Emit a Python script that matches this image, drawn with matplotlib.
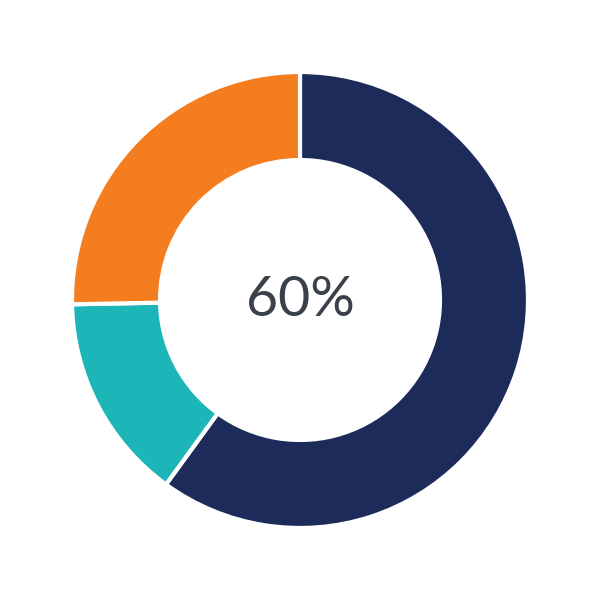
import matplotlib.pyplot as plt

# Data from the chart
labels = ['Navy', 'Teal', 'Orange']
shares = [60, 14.7, 25.3]
colors = ['#1c2b5a', '#1cb5b8', '#f47d20']
center_label = '60%'

fig = plt.figure(figsize=(6, 6), dpi=100)
ax = fig.add_axes([0, 0, 1, 1])

ax.pie(shares, colors=colors, startangle=90, counterclock=False,
       radius=1.0, wedgeprops=dict(width=0.386, edgecolor='white', linewidth=3))

ax.text(0, 0, center_label, ha='center', va='center', fontsize=40,
        family='Lato', fontweight='normal', color='#3a414b')

lim = 300 / 228
ax.set_xlim(-lim, lim)
ax.set_ylim(-lim, lim)
ax.set_aspect('equal')
ax.axis('off')

plt.savefig('out.png', dpi=100, facecolor='white')
